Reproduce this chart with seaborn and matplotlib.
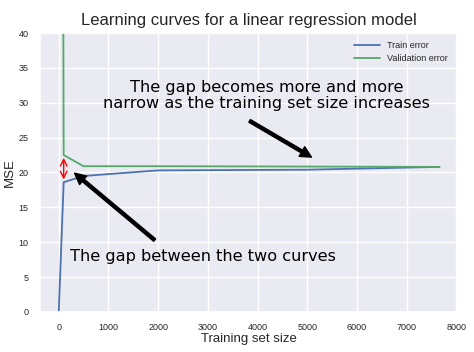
import matplotlib
matplotlib.use("Agg")
import matplotlib.pyplot as plt
import seaborn as sns
import pandas as pd

# learning curve values
train_sizes = [1, 100, 500, 2000, 5000, 7660]
train_error = [0.0, 18.6, 19.5, 20.3, 20.4, 20.8]
val_error = [300.0, 22.5, 20.9, 20.9, 20.85, 20.8]

sns.set_theme(style="darkgrid")
plt.rcParams['font.family'] = ['Liberation Sans', 'DejaVu Sans']

df = pd.DataFrame({"size": train_sizes * 2,
                   "mse": train_error + val_error,
                   "curve": ["Train error"] * len(train_sizes) + ["Validation error"] * len(train_sizes)})

fig, ax = plt.subplots(figsize=(4.74, 3.52), dpi=100)
fig.subplots_adjust(left=0.084, right=0.966, top=0.906, bottom=0.114)

sns.lineplot(data=df, x="size", y="mse", hue="curve", ax=ax,
             palette=["#4C72B0", "#55A868"], linewidth=1.3)

ax.set_ylim(0, 40)
ax.set_xlim(-380, 8030)
ax.set_xticks(range(0, 8001, 1000))
ax.set_yticks(range(0, 41, 5))
ax.tick_params(labelsize=6.5, pad=2)
ax.set_xlabel("Training set size", fontsize=9.5, labelpad=1)
ax.set_ylabel("MSE", fontsize=9.5, labelpad=2)
ax.set_title("Learning curves for a linear regression model", fontsize=12, pad=6)

ax.legend(loc="upper right", fontsize=6.5, frameon=False, handlelength=2.8,
          bbox_to_anchor=(0.995, 1.0), labelspacing=0.4)

# red double arrow marking the gap
ax.annotate("", xy=(100, train_error[1]), xytext=(100, val_error[1]),
            arrowprops=dict(arrowstyle="<->", color="red", lw=1))

arrow = dict(facecolor="black", edgecolor="black", width=2.2, headwidth=8, headlength=8, shrink=0)

ax.text(2910, 8.0, "The gap between the two curves", ha="center", va="center",
        fontsize=11.6, family="DejaVu Sans", color="black")
ax.annotate("", xy=(320, 19.9), xytext=(1930, 10.3), arrowprops=arrow)

ax.text(4180, 31.1, "The gap becomes more and more\nnarrow as the training set size increases",
        ha="center", va="center", fontsize=11.6, family="DejaVu Sans", color="black",
        linespacing=1.1)
ax.annotate("", xy=(5085, 22.2), xytext=(3840, 27.4), arrowprops=arrow)

fig.savefig("out.png", dpi=100)
